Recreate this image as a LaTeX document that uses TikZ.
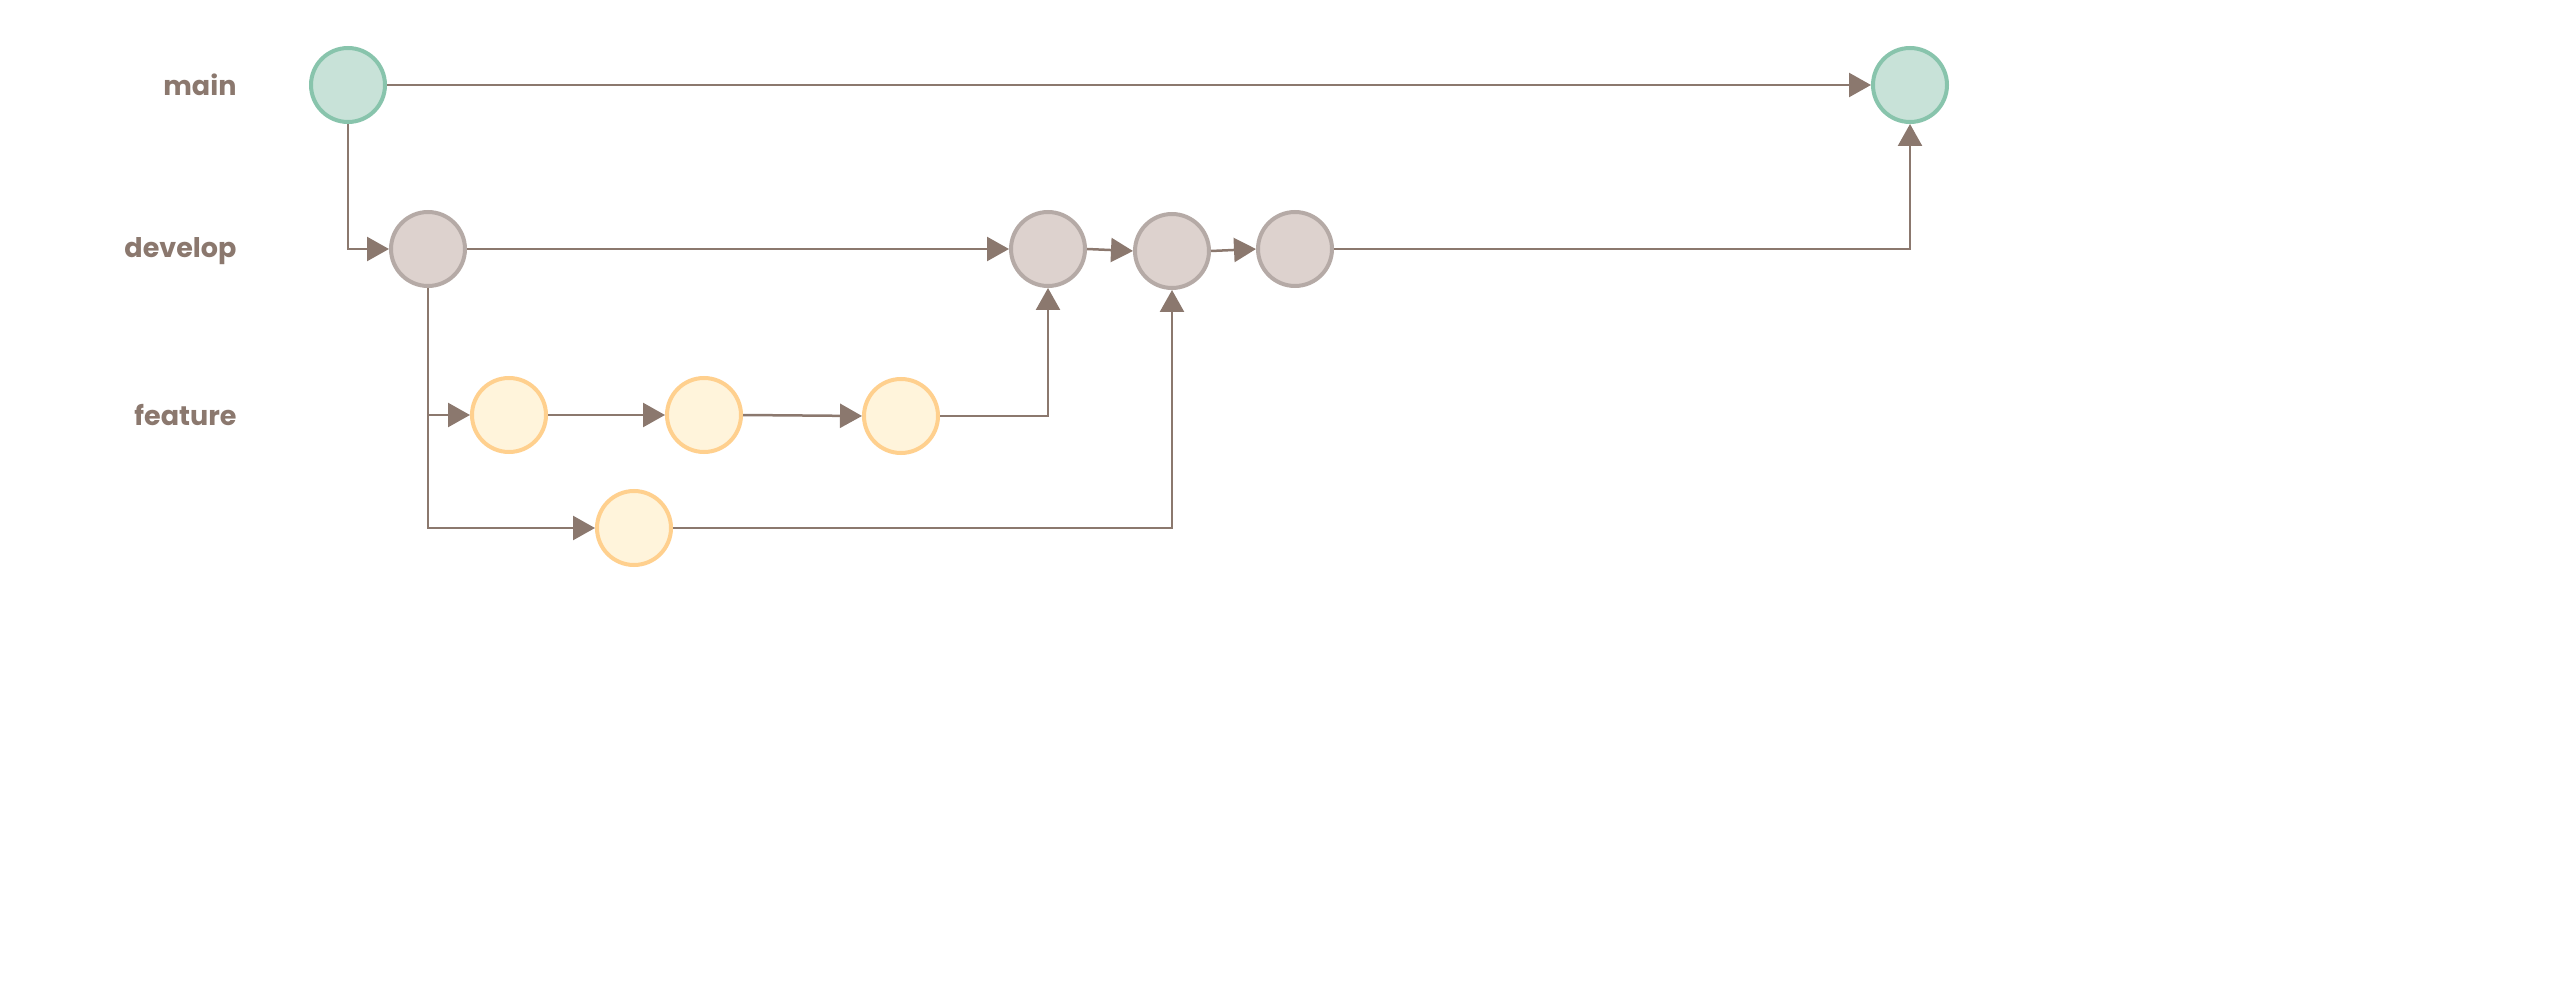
\documentclass[tikz,border=0pt]{standalone}
\usepackage{fontspec}
\setmainfont{Poppins}
\usetikzlibrary{arrows.meta}
\definecolor{ln}{HTML}{8B786E}
\tikzset{
 commitc/.style={circle,minimum size=74pt,inner sep=0,line width=4pt},
 mainc/.style={commitc,fill={rgb,255:red,200;green,226;blue,216},draw={rgb,255:red,136;green,196;blue,172}},
 devc/.style={commitc,fill={rgb,255:red,221;green,210;blue,206},draw={rgb,255:red,181;green,170;blue,166}},
 featc/.style={commitc,fill={rgb,255:red,255;green,244;blue,219},draw={rgb,255:red,255;green,208;blue,142}},
 lbl/.style={anchor=east,text=ln,font=\fontsize{27}{30}\selectfont\bfseries},
 con/.style={draw=ln,line width=2.5pt,-{Triangle[length=22pt,width=24pt]}},
}
\begin{document}
\begin{tikzpicture}[x=1pt,y=-1pt]
\useasboundingbox (0,0) rectangle (2560,1000);
\node[lbl] (lm) at (240,85) {main};
\node[lbl] (ld) at (240,251) {develop};
\node[lbl] (lf) at (240,415) {feature};
\node[mainc] (m1) at (348,85) {};
\node[mainc] (m2) at (1910,85) {};
\node[devc] (d1) at (428,249) {};
\node[devc] (d2) at (1048,249) {};
\node[devc] (d3) at (1172,251) {};
\node[devc] (d4) at (1295,249) {};
\node[featc] (f1) at (509,415) {};
\node[featc] (f2) at (704,415) {};
\node[featc] (f3) at (901,416) {};
\node[featc] (f4) at (634,528) {};
\draw[con] (m1.east) -- (m2.west);
\draw[con] (m1.south) |- (d1.west);
\draw[con] (d1.east) -- (d2.west);
\draw[con] (d2.east) -- (d3.west);
\draw[con] (d3.east) -- (d4.west);
\draw[con] (d4.east) -| (m2.south);
\draw[con] (d1.south) |- (f1.west);
\draw[con] (d1.south) |- (f4.west);
\draw[con] (f1.east) -- (f2.west);
\draw[con] (f2.east) -- (f3.west);
\draw[con] (f3.east) -| (d2.south);
\draw[con] (f4.east) -| (d3.south);
\end{tikzpicture}
\end{document}
